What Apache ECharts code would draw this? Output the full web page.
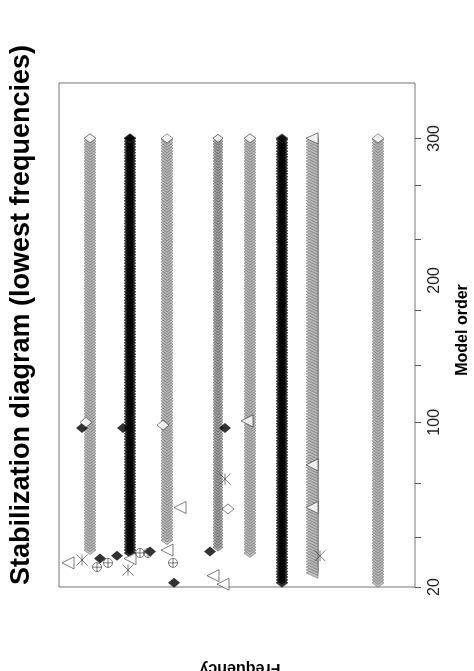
<!DOCTYPE html>
<html><head><meta charset="utf-8">
<script src="https://cdn.jsdelivr.net/npm/echarts@6/dist/echarts.min.js"></script>
<style>html,body{margin:0;padding:0;background:#fff}#c{width:474px;height:671px}</style>
</head><body><div id="c"></div>
<script>
// Stable pole columns: frequency (arbitrary units), lowest model order reached, max order
const colFreq = [0.31, 0.71, 1.08, 1.59, 1.91, 2.23, 2.53, 3.19];
const colStart = [10, 8, 17, 12, 8, -13, -6, -13];
const colEnd = [300, 300, 300, 300, 300, 300, 300, 300];
const colStyle = ['grey', 'black', 'grey', 'dotted', 'grey', 'black', 'tri', 'grey'];
const orderStep = 2;
// Scattered (unstable) poles: [frequency, model order]
const blackPoles = [[0.23,96],[0.64,96],[1.66,96],[0.41,4],[0.58,6],[0.91,9],[1.15,-13],[1.51,9]];
const whiteDiamonds = [[1.04,98],[1.69,39],[0.27,100]];
const trianglePoles = [[1.88,101],[1.21,40],[0.09,1],[1.08,10],[0.71,4],[1.54,-8],[1.64,-14],[2.53,40],[2.53,70]];
const circlePoles = [[0.38,-2],[0.49,1],[0.81,8],[0.89,8],[1.14,1]];
const crossPoles = [[0.23,3],[0.69,-4],[2.61,6],[1.66,60]];
const orderLabels = [-16, 100, 200, 300];
const orderLabelText = ['20', '100', '200', '300'];
const orderTicks = [-16, 19, 57, 100, 140, 179, 229, 267, 300];

const styles = {
  grey: {symbol:'diamond', size:[12,9], item:{color:'#b4b4b4', borderColor:'#555', borderWidth:0.6}},
  black: {symbol:'diamond', size:[12,9], item:{color:'#000', borderColor:'#000', borderWidth:0.5}},
  dotted: {symbol:'diamond', size:[10,8], item:{color:'#9a9a9a', borderColor:'#444', borderWidth:0.6}},
  tri: {symbol:'triangle', size:[11,12], item:{color:'#b8b8b8', borderColor:'#555', borderWidth:0.6}, rot:90}
};
const series = [];
colFreq.forEach((f,i)=>{
  const pts=[];
  for(let o=colStart[i]; o<=colEnd[i]; o+=orderStep) pts.push([f,o]);
  const s=styles[colStyle[i]];
  series.push({type:'scatter', data:pts, symbol:s.symbol, symbolSize:s.size, symbolRotate:s.rot||0,
    itemStyle:s.item, silent:true, animation:false});
  series.push({type:'scatter', data:[[f,colEnd[i]]], symbol:s.symbol, symbolSize:s.size, symbolRotate:s.rot||0,
    itemStyle:{color: colStyle[i]==='black'?'#000':'#fff', borderColor:'#444', borderWidth:0.7}, z:3, animation:false});
});
series.push({type:'scatter', data:blackPoles, symbol:'diamond', symbolSize:[12,10], itemStyle:{color:'#000'}, z:4, animation:false});
series.push({type:'scatter', data:whiteDiamonds, symbol:'diamond', symbolSize:[12,10], itemStyle:{color:'#fff',borderColor:'#333',borderWidth:0.8}, z:4, animation:false});
series.push({type:'scatter', data:trianglePoles, symbol:'triangle', symbolRotate:90, symbolSize:12, itemStyle:{color:'#fff',borderColor:'#333',borderWidth:0.8}, z:4, animation:false});
series.push({type:'scatter', data:circlePoles, symbol:'path://M10,0A10,10 0 1 1 9.99,0ZM10,0L10,20M0,10L20,10', symbolSize:9, itemStyle:{color:'none',borderColor:'#333',borderWidth:0.8}, z:4, animation:false});
series.push({type:'scatter', data:crossPoles, symbol:'path://M0,0L20,20M20,0L0,20M10,0L10,20', symbolSize:11, itemStyle:{color:'none',borderColor:'#333',borderWidth:0.8}, z:4, animation:false});

const chart = echarts.init(document.getElementById('c'));
chart.setOption({
  animation:false,
  grid:{left:59, right:59, top:83, bottom:84, show:true, borderColor:'#777', borderWidth:1},
  xAxis:{type:'value', min:0, max:3.56, show:false},
  yAxis:{type:'value', position:'right', min:-16, max:339,
    axisLine:{show:false, onZero:false}, splitLine:{show:false},
    axisTick:{show:true, length:6, inside:false, customValues:orderTicks, lineStyle:{color:'#555'}},
    axisLabel:{customValues:orderLabels, rotate:90, margin:12, fontSize:16, color:'#222', fontFamily:'Liberation Sans',
      formatter:v=>orderLabelText[orderLabels.indexOf(v)] ?? String(v)}},
  series,
  graphic:[
    {type:'text', x:22, y:315, rotation:Math.PI/2, style:{text:'Stabilization diagram (lowest frequencies)', font:'bold 27px "Liberation Sans"', fill:'#000', align:'center', verticalAlign:'middle'}},
    {type:'text', x:463, y:330, rotation:Math.PI/2, style:{text:'Model order', font:'bold 16px "Liberation Sans"', fill:'#000', align:'center', verticalAlign:'middle'}},
    {type:'text', x:240, y:668, rotation:Math.PI, style:{text:'Frequency', font:'bold 16px "Liberation Sans"', fill:'#000', align:'center', verticalAlign:'middle'}}
  ]
});
</script></body></html>
